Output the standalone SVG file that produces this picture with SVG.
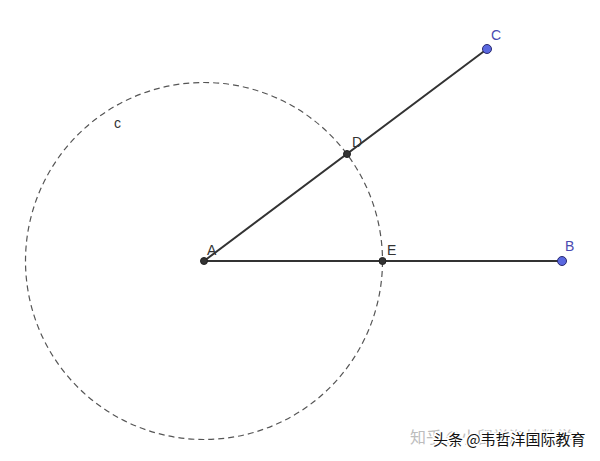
<svg xmlns="http://www.w3.org/2000/svg" width="600" height="461" viewBox="0 0 600 461">
<style>
.seg{stroke:#333;stroke-width:2;fill:none;stroke-linecap:round}
.circ{stroke:#555;stroke-width:1.2;fill:none;stroke-dasharray:6 4}
.pt{fill:#333;stroke:#222;stroke-width:1}
.bpt{fill:#5a68e0;stroke:#2a2a70;stroke-width:1}
.lbl{font-family:"Liberation Sans",Arial,sans-serif;font-size:14px;fill:#333}
.blbl{font-family:"Liberation Sans",Arial,sans-serif;font-size:14px;fill:#4a4ab0}
.wm1{font-family:"Noto Sans CJK SC",sans-serif;font-size:16px;fill:#bdbdbd}
.wm2{font-family:"Noto Sans CJK SC",sans-serif;font-size:15px;fill:#111;stroke:#fff;stroke-width:3;paint-order:stroke}
</style>
<rect width="600" height="461" fill="#fff"/>
<g id="circle-c"><circle class="circ" cx="204" cy="261" r="178.5"/><text class="lbl" x="114" y="128">c</text></g>
<g id="connectors">
<line class="seg" x1="204" y1="261" x2="487" y2="49"/>
<line class="seg" x1="204" y1="261" x2="562" y2="261"/>
</g>
<g id="A"><circle class="pt" cx="204" cy="261" r="3.5"/><text class="lbl" x="207" y="255">A</text></g>
<g id="D"><circle class="pt" cx="347" cy="154" r="3.5"/><text class="lbl" x="352" y="147">D</text></g>
<g id="E"><circle class="pt" cx="382.5" cy="261" r="3.5"/><text class="lbl" x="387" y="255">E</text></g>
<g id="C"><circle class="bpt" cx="487" cy="49" r="4.5"/><text class="blbl" x="491" y="40">C</text></g>
<g id="B"><circle class="bpt" cx="562" cy="261" r="4.5"/><text class="blbl" x="565" y="251">B</text></g>
<g id="watermark">
<text class="wm1" x="410" y="443">知乎 @小留学海外数学</text>
<text class="wm2" x="433" y="445">头条 @韦哲洋国际教育</text>
</g>
</svg>
